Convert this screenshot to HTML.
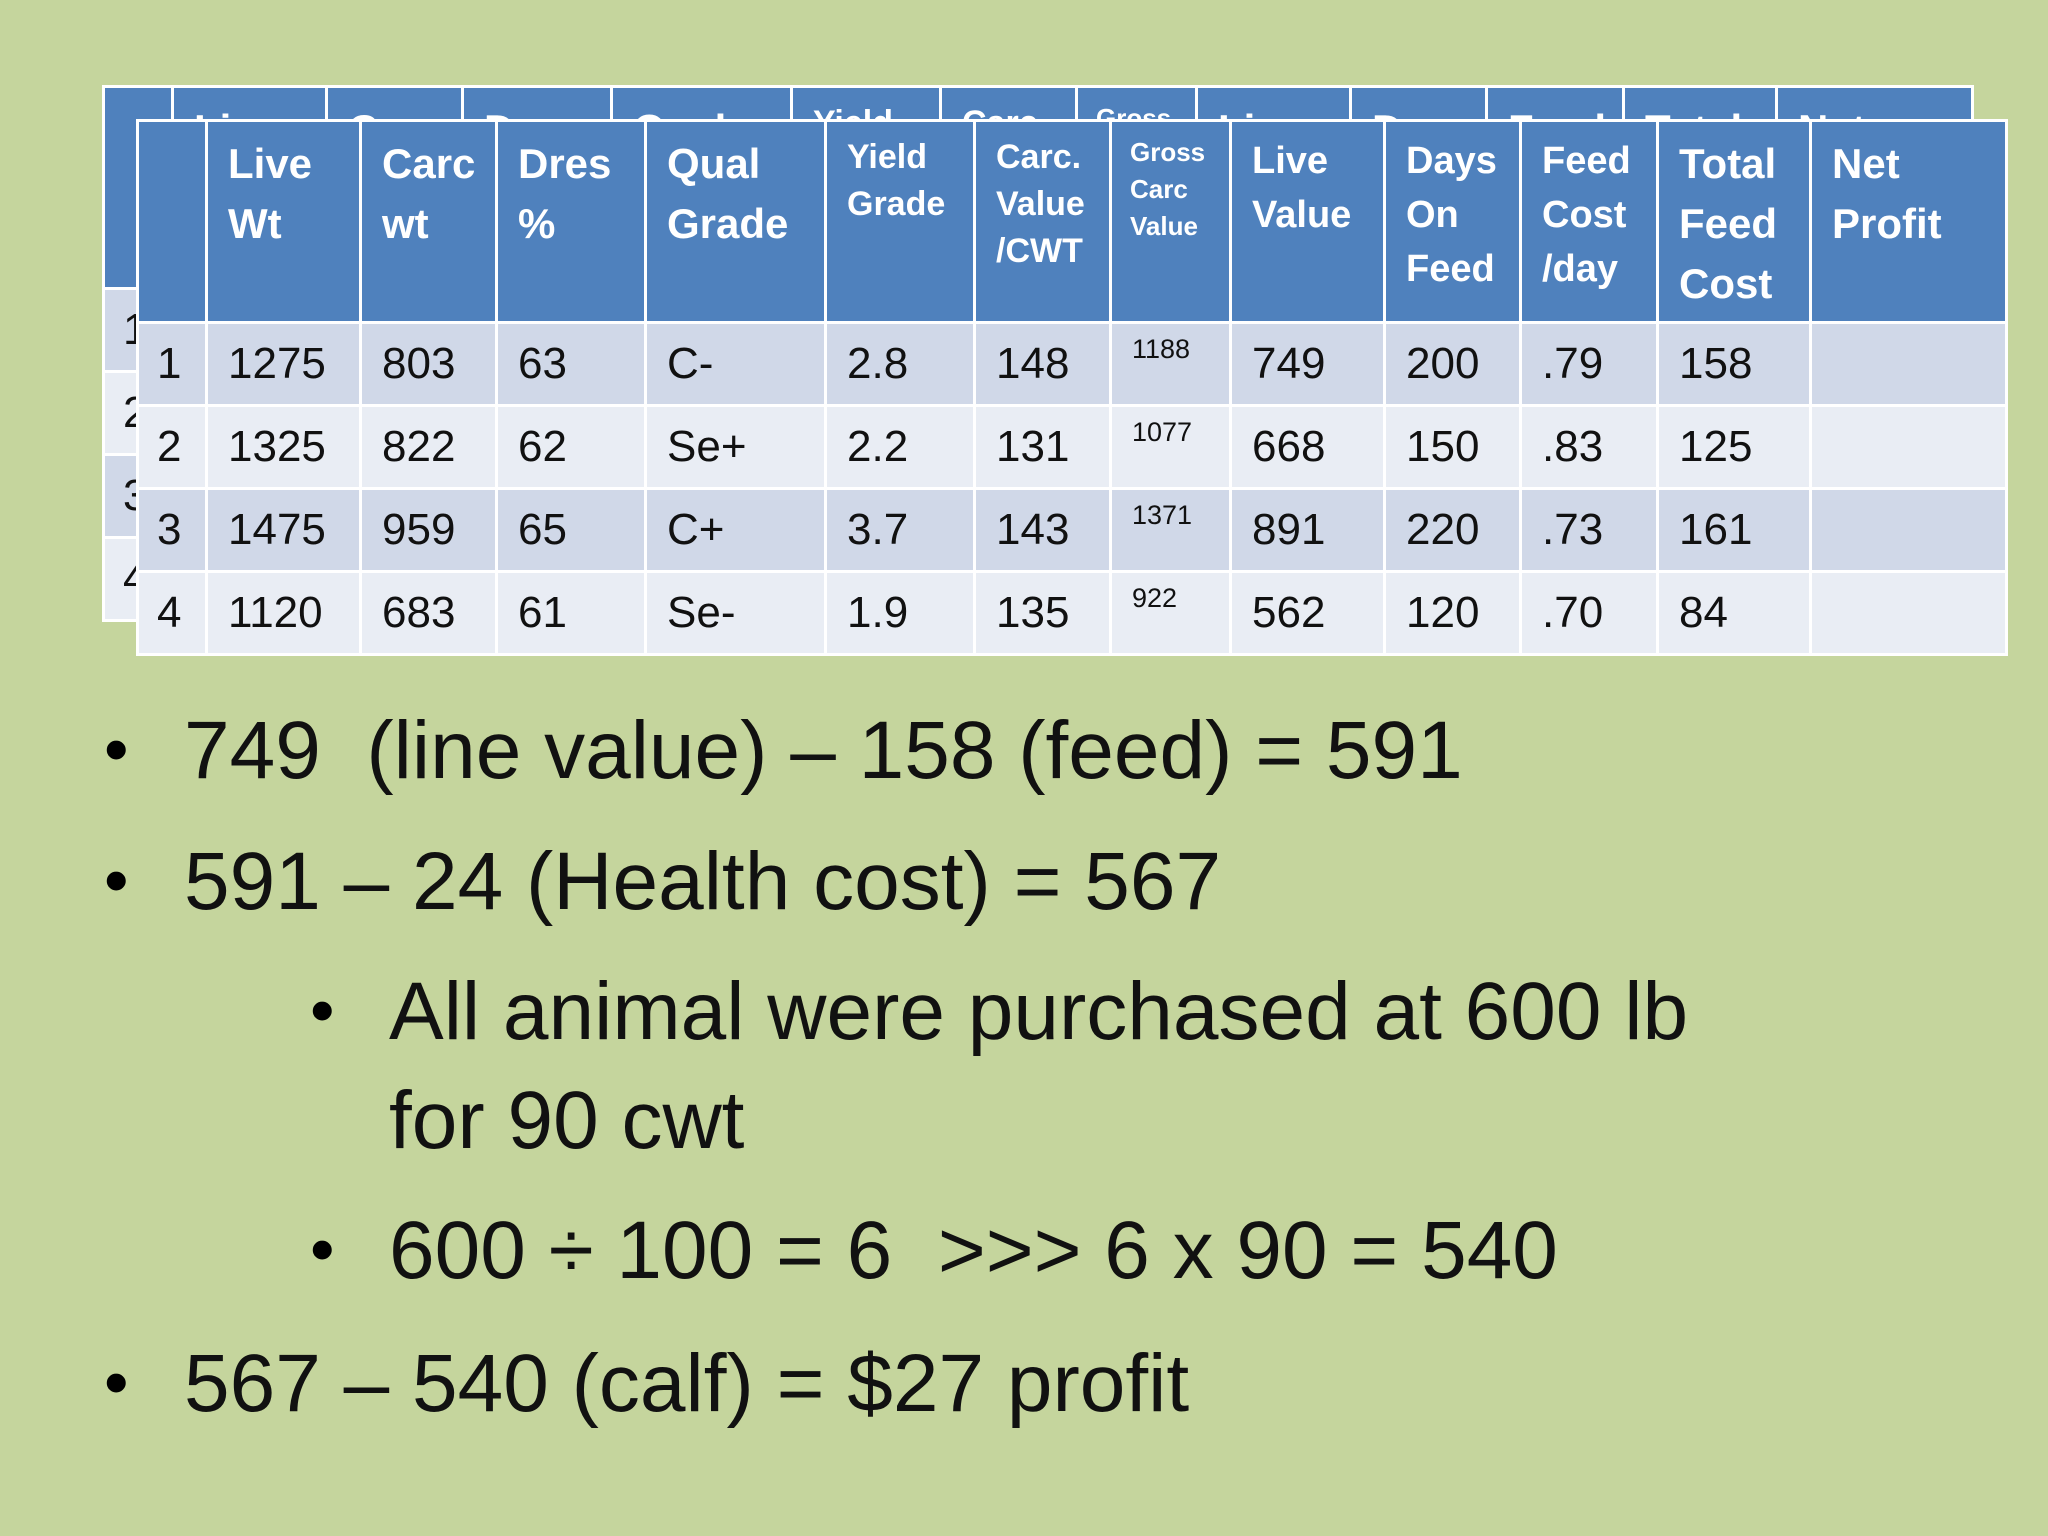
<!DOCTYPE html>
<html><head><meta charset="utf-8"><style>
html,body{margin:0;padding:0}
body{width:2048px;height:1536px;background:#c5d59d;position:relative;overflow:hidden;font-family:"Liberation Sans",sans-serif}
table{position:absolute;border-collapse:collapse;table-layout:fixed;width:1869px}
td,th{border:3px solid #fff;padding:0 0 0 20px;text-align:left;vertical-align:middle;overflow:hidden;white-space:nowrap}
tr.h{height:202px}
tr.a,tr.b{height:83px}
th{background:#4f81bd;color:#fff;font-weight:bold;font-size:42px;line-height:60px;vertical-align:top;padding-top:12px}
th.s{font-size:34px;line-height:47px}
th.xs{font-size:26px;line-height:37px;padding-left:18px}
td{font-size:44px;line-height:50px;color:#111}
tr.a td{background:#d0d8e8}
tr.b td{background:#e9edf4}
td.g{font-size:27px;line-height:30px;vertical-align:top;padding-top:10px}
td.n{padding-left:18px}
.bul{position:absolute;font-size:82px;color:#111;white-space:nowrap;line-height:1}
.dot{position:absolute;font-size:70px;line-height:1}
</style></head><body>
<table id="back" style="left:102px;top:85px">
<colgroup><col style="width:69px"><col style="width:154px"><col style="width:136px"><col style="width:149px"><col style="width:180px"><col style="width:149px"><col style="width:136px"><col style="width:120px"><col style="width:154px"><col style="width:136px"><col style="width:137px"><col style="width:153px"><col style="width:196px"></colgroup>
<tr class="h"><th></th><th>Live<br>Wt</th><th>Carc<br>wt</th><th>Dres<br>%</th><th>Qual<br>Grade</th><th class="s">Yield<br>Grade</th><th class="s">Carc.<br>Value</th><th class="xs">Gross<br>Carc</th><th>Live<br>Value</th><th>Days<br>On</th><th>Feed<br>Cost</th><th>Total<br>Feed</th><th>Net<br>Profit</th></tr>
<tr class="a"><td class="n">1</td><td></td><td></td><td></td><td></td><td></td><td></td><td></td><td></td><td></td><td></td><td></td><td></td></tr>
<tr class="b"><td class="n">2</td><td></td><td></td><td></td><td></td><td></td><td></td><td></td><td></td><td></td><td></td><td></td><td></td></tr>
<tr class="a"><td class="n">3</td><td></td><td></td><td></td><td></td><td></td><td></td><td></td><td></td><td></td><td></td><td></td><td></td></tr>
<tr class="b"><td class="n">4</td><td></td><td></td><td></td><td></td><td></td><td></td><td></td><td></td><td></td><td></td><td></td><td></td></tr>
</table>
<table id="front" style="left:136px;top:119px">
<colgroup><col style="width:69px"><col style="width:154px"><col style="width:136px"><col style="width:149px"><col style="width:180px"><col style="width:149px"><col style="width:136px"><col style="width:120px"><col style="width:154px"><col style="width:136px"><col style="width:137px"><col style="width:153px"><col style="width:196px"></colgroup>
<tr class="h"><th></th><th>Live<br>Wt</th><th>Carc<br>wt</th><th>Dres<br>%</th><th>Qual<br>Grade</th><th class="s">Yield<br>Grade</th><th class="s">Carc.<br>Value<br>/CWT</th><th class="xs">Gross<br>Carc<br>Value</th><th class="s" style="font-size:38px;line-height:54px">Live<br>Value</th><th class="s" style="font-size:38px;line-height:54px">Days<br>On<br>Feed</th><th class="s" style="font-size:38px;line-height:54px">Feed<br>Cost<br>/day</th><th style="line-height:60px">Total<br>Feed<br>Cost</th><th>Net<br>Profit</th></tr>
<tr class="a"><td class="n">1</td><td>1275</td><td>803</td><td>63</td><td>C-</td><td>2.8</td><td>148</td><td class="g">1188</td><td>749</td><td>200</td><td>.79</td><td>158</td><td></td></tr>
<tr class="b"><td class="n">2</td><td>1325</td><td>822</td><td>62</td><td>Se+</td><td>2.2</td><td>131</td><td class="g">1077</td><td>668</td><td>150</td><td>.83</td><td>125</td><td></td></tr>
<tr class="a"><td class="n">3</td><td>1475</td><td>959</td><td>65</td><td>C+</td><td>3.7</td><td>143</td><td class="g">1371</td><td>891</td><td>220</td><td>.73</td><td>161</td><td></td></tr>
<tr class="b"><td class="n">4</td><td>1120</td><td>683</td><td>61</td><td>Se-</td><td>1.9</td><td>135</td><td class="g">922</td><td>562</td><td>120</td><td>.70</td><td>84</td><td></td></tr>
</table>
<div class="dot" style="left:104px;top:714px">•</div>
<div class="bul" style="left:184px;top:710px">749&nbsp; (line value) – 158 (feed) = 591</div>
<div class="dot" style="left:104px;top:845px">•</div>
<div class="bul" style="left:184px;top:841px">591 – 24 (Health cost) = 567</div>
<div class="dot" style="left:310px;top:975px">•</div>
<div class="bul" style="left:389px;top:971px">All animal were purchased at 600 lb</div>
<div class="bul" style="left:389px;top:1080px">for 90 cwt</div>
<div class="dot" style="left:310px;top:1214px">•</div>
<div class="bul" style="left:389px;top:1210px">600 ÷ 100 = 6&nbsp; &gt;&gt;&gt; 6 x 90 = 540</div>
<div class="dot" style="left:104px;top:1347px">•</div>
<div class="bul" style="left:184px;top:1343px">567 – 540 (calf) = $27 profit</div>
</body></html>
